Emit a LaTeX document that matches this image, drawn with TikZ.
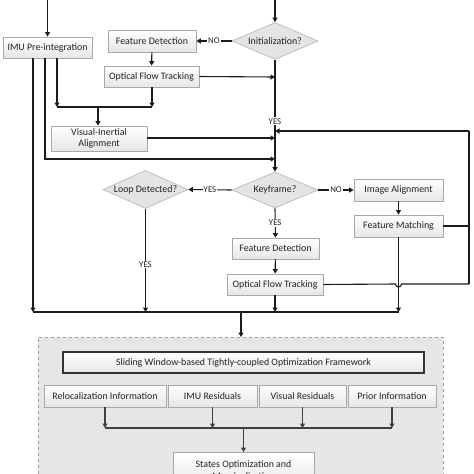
\documentclass[tikz,border=0pt]{standalone}
\usepackage{fontspec}
\setmainfont{Carlito}
\usetikzlibrary{shapes.geometric,arrows.meta}
\definecolor{lnc}{HTML}{1C1C1C}
\definecolor{boxb}{HTML}{A8A8A8}
\definecolor{boxf}{HTML}{E6E6E6}
\definecolor{diaf}{HTML}{E4E4E4}
\definecolor{diab}{HTML}{BEBEBE}
\definecolor{bgf}{HTML}{E6E6E6}
\definecolor{bgb}{HTML}{A0A0A0}
\definecolor{txt}{HTML}{222222}
\tikzset{
  box/.style={draw=boxb, line width=0.8pt, top color=white, bottom color=boxf, inner sep=0pt,
    font=\fontsize{9.9}{11}\selectfont, text=txt, align=center},
  dia/.style={diamond, draw=diab, line width=0.8pt, fill=diaf, inner sep=0pt, aspect=2.3,
    font=\fontsize{9.9}{11}\selectfont, text=txt},
  conn/.style={draw=lnc, line width=1.1pt},
  arr/.style={conn, -{Triangle[length=4.5pt,width=5pt]}},
  lab/.style={fill=white, inner sep=1pt, font=\fontsize{8.8}{9}\selectfont, text=txt},
  dashbox/.style={draw=bgb, dashed, line width=0.7pt, fill=bgf},
  swbox/.style={draw=black!80, line width=1.4pt, top color=white, bottom color=boxf, inner sep=0pt,
    font=\fontsize{9.9}{11}\selectfont, text=txt},
  inarr/.style={draw=black!75, line width=1.1pt, -{Triangle[length=4.5pt,width=5pt]}},
  inconn/.style={draw=black!75, line width=1.1pt}
}
\begin{document}
\begin{tikzpicture}[x=1pt,y=-1pt]
\useasboundingbox (0,0) rectangle (474,474);
\clip (0,0) rectangle (474,474);

% ---- nodes upper part
\node[box, minimum width=89pt, minimum height=21pt] (imu) at (47.5,47.5) {IMU Pre-integration};
\node[box, minimum width=88pt, minimum height=22pt] (fd1) at (152,41) {Feature Detection};
\node[box, minimum width=95pt, minimum height=21pt] (oft1) at (151.5,76.5) {Optical Flow Tracking};
\node[box, minimum width=96pt, minimum height=25pt, font=\fontsize{9.9}{11}\selectfont] (via) at (99,138.5) {Visual-Inertial\\Alignment};
\node[dia, minimum width=86pt, minimum height=37pt] (init) at (275,41) {Initialization?};
\node[dia, minimum width=86pt, minimum height=36pt] (kf) at (275,190) {Keyframe?};
\node[dia, minimum width=85pt, minimum height=38pt] (loop) at (145.5,189.5) {Loop Detected?};
\node[box, minimum width=87pt, minimum height=21pt] (fd2) at (275.5,248.5) {Feature Detection};
\node[box, minimum width=96pt, minimum height=21pt] (oft2) at (275,284.5) {Optical Flow Tracking};
\node[box, minimum width=89pt, minimum height=22pt] (ia) at (398.5,190) {Image Alignment};
\node[box, minimum width=89pt, minimum height=22pt] (fm) at (398.5,226) {Feature Matching};

% ---- coordinates
\coordinate (topa) at (47.5,-2);
\coordinate (topb) at (275,-2);
\coordinate (j1) at (275,77);
\coordinate (j2) at (275,131);
\coordinate (j3) at (275,138);
\coordinate (j4) at (275,159);
\coordinate (fb) at (469,131);
\coordinate (fbm) at (469,226);
\coordinate (fbo) at (469,284);
\coordinate (m1) at (57,107);
\coordinate (m2) at (152,107);
\coordinate (m3) at (98,107);
\coordinate (b1) at (33,312);
\coordinate (b2) at (145.5,312);
\coordinate (b3) at (275,312);
\coordinate (b4) at (398.5,312);
\coordinate (b5) at (241,312);
\coordinate (hop) at (398.5,284);

% ---- upper connectors
\draw[arr] (topa) -- (imu.north);
\draw[arr] (topb) -- (init.north);
\draw[arr] (init.west) -- node[lab]{NO} (fd1.east);
\draw[arr] (fd1) -- (oft1);
\draw[arr] (oft1.east) -- (j1);
\draw[arr] (imu.south -| b1) -- (b1);
\draw[arr] (imu.south -| 45,0) |- (j4);
\draw[arr] (imu.south -| m1) -- (m1);
\draw[arr] (oft1.south -| m2) -- (m2);
\draw[conn] (m1) -- (m2);
\draw[arr] (m3) -- (via.north -| m3);
\draw[arr] (via.east |- j3) -- (j3);
\draw[arr] (init.south) -- node[lab, pos=0.55]{YES} (kf.north);
\draw[arr] (fb) -- (j2);
\draw[arr] (kf.west) -- node[lab]{YES} (loop.east);
\draw[arr] (kf.east) -- node[lab]{NO} (ia.west);
\draw[arr] (kf.south) -- node[lab, pos=0.5]{YES} (fd2.north);
\draw[arr] (fd2) -- (oft2);
\draw[arr] (ia) -- (fm);
\draw[conn] (fm.east) -- (fbm);
\draw[conn] (fbo) -- (fb);
\draw[conn] (oft2.east) -- ([xshift=-3pt]hop) arc (180:360:3pt) -- (fbo);
\draw[arr] (oft2.south) -- (b3);
\draw[arr] (fm.south) -- (b4);
\draw[arr] (loop.south) -- node[lab, pos=0.54]{YES} (b2);
\draw[conn] (b1) -- (b4);

% ---- lower frame
\node[dashbox, anchor=north west, minimum width=405pt, minimum height=160pt, inner sep=0pt] (frame) at (38,337) {};
\draw[arr] (b5) -- (b5 |- frame.north);
\node[swbox, minimum width=361pt, minimum height=21pt] (sw) at (243.5,362.5) {Sliding Window-based Tightly-coupled Optimization Framework};
\node[box, minimum width=122pt, minimum height=22pt] (reloc) at (105,396) {Relocalization Information};
\node[box, minimum width=89pt, minimum height=22pt] (imur) at (212.5,396) {IMU Residuals};
\node[box, minimum width=87pt, minimum height=22pt] (visr) at (302.5,396) {Visual Residuals};
\node[box, minimum width=88pt, minimum height=22pt] (prior) at (392,396) {Prior Information};
\node[box, anchor=north, minimum width=141pt, minimum height=38pt, font=\fontsize{9.9}{12}\selectfont] (states) at (243.5,452) {States Optimization and\\Marginalization};
\coordinate (c1) at (105,428);
\coordinate (c2) at (212.5,428);
\coordinate (c3) at (302.5,428);
\coordinate (c4) at (392,428);
\coordinate (c5) at (243.5,428);
\draw[inarr] (reloc.south) -- (c1);
\draw[inarr] (imur.south) -- (c2);
\draw[inarr] (visr.south) -- (c3);
\draw[inarr] (prior.south) -- (c4);
\draw[inconn] (c1) -- (c4);
\draw[inarr] (c5) -- (states.north);
\end{tikzpicture}
\end{document}
